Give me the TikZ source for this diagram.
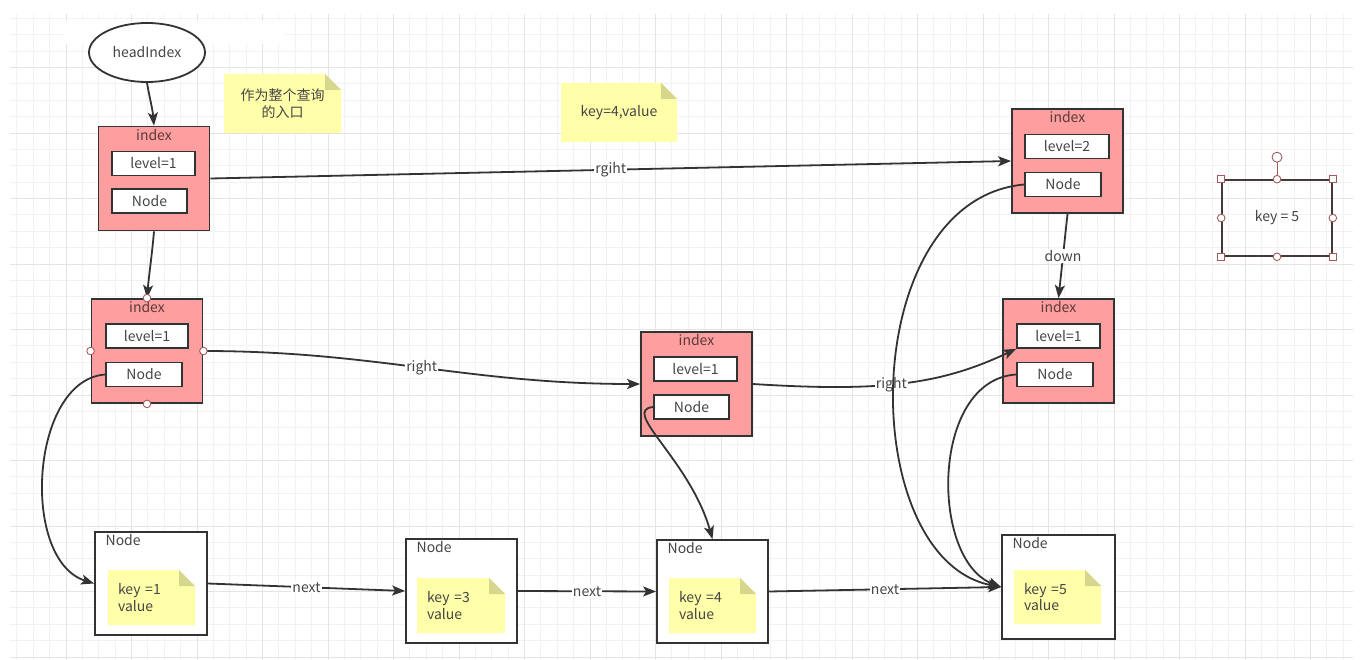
\documentclass[tikz,border=0pt]{standalone}
\usepackage{fontspec}
\setmainfont{Noto Sans CJK SC}
\usetikzlibrary{arrows.meta,shapes.geometric}
\definecolor{idxfill}{HTML}{FF9E9E}
\definecolor{linec}{HTML}{333333}
\definecolor{txtc}{HTML}{454545}
\definecolor{titc}{HTML}{5A3A3A}
\definecolor{noteY}{HTML}{FFFFAA}
\definecolor{foldY}{HTML}{D6D68C}
\definecolor{gridmin}{HTML}{F2F2F2}
\definecolor{gridmaj}{HTML}{E4E4E4}
\definecolor{handc}{HTML}{A05C5C}
\begin{document}
\begin{tikzpicture}[x=1pt,y=-1pt, font=\fontsize{14}{16.5}\selectfont, text=txtc,
 idx/.style={draw=linec, line width=1.8pt, fill=idxfill, minimum width=111pt, minimum height=104pt, inner sep=0pt},
 fld/.style={draw=linec, line width=1.6pt, fill=white, minimum height=24pt, inner sep=0pt},
 nbox/.style={draw=linec, line width=1.8pt, fill=white, minimum width=111pt, minimum height=104pt, inner sep=0pt},
 arr/.style={draw=linec, line width=1.8pt, -{Stealth[length=13pt,width=10pt,inset=3pt]}},
 lbl/.style={fill=white, inner sep=1pt, text=txtc},
 ttl/.style={text=titc, inner sep=0pt},
 hnd/.style={draw=handc, fill=white, line width=0.9pt},
 note/.style={inner sep=0pt, path picture={
   \fill[noteY] (path picture bounding box.south west) -- (path picture bounding box.north west)
     -- ([xshift=-16pt]path picture bounding box.north east) -- ([yshift=-16pt]path picture bounding box.north east)
     -- (path picture bounding box.south east) -- cycle;
   \fill[foldY] ([xshift=-16pt]path picture bounding box.north east) -- ([xshift=-16pt,yshift=-16pt]path picture bounding box.north east)
     -- ([yshift=-16pt]path picture bounding box.north east) -- cycle;}}
]
\useasboundingbox (0,0) rectangle (1372,660);
\fill[white] (0,0) rectangle (1372,660);
% grid
\begin{scope}
\clip (10,15) rectangle (1353,660);
\foreach \i in {0,...,83} \draw[gridmin, line width=0.8pt] ({0.5+16.375*\i},0) -- ({0.5+16.375*\i},660);
\foreach \i in {0,...,41} \draw[gridmin, line width=0.8pt] (0,{2+16.375*\i}) -- (1372,{2+16.375*\i});
\foreach \i in {0,...,21} \draw[gridmaj, line width=0.9pt] ({0.5+65.5*\i},0) -- ({0.5+65.5*\i},660);
\foreach \i in {0,...,10} \draw[gridmaj, line width=0.9pt] (0,{2+65.5*\i}) -- (1372,{2+65.5*\i});
\end{scope}
\fill[white] (65,21) rectangle (285,44);

% head
\node[ellipse, draw=linec, line width=1.8pt, fill=white, minimum width=116pt, minimum height=59pt, inner sep=0pt] (hi) at (147,52.5) {headIndex};
\node[note, minimum width=117pt, minimum height=59pt, align=center] (cn) at (282.5,103.5) {作为整个查询\\的入口};
\node[note, minimum width=116pt, minimum height=59pt] (k4n) at (619,112.5) {key=4,value};

% index nodes
\node[idx] (i1) at (154,178.5) {};
\node[ttl] at ([yshift=-9pt]i1.north) {index};
\node[fld, minimum width=83pt] (i1lv) at (153.5,163.5) {level=1};
\node[fld, minimum width=75pt] (i1nd) at (149.5,201) {Node};

\node[idx] (i2) at (147,351) {};
\node[ttl] at ([yshift=-9pt]i2.north) {index};
\node[fld, minimum width=82pt] (i2lv) at (147,336) {level=1};
\node[fld, minimum width=76pt] (i2nd) at (144,374.5) {Node};

\node[idx] (i3) at (696.5,384) {};
\node[ttl] at ([yshift=-9pt]i3.north) {index};
\node[fld, minimum width=83pt] (i3lv) at (695.5,369) {level=1};
\node[fld, minimum width=75pt] (i3nd) at (691.5,407) {Node};

\node[idx] (i4) at (1067.5,161) {};
\node[ttl] at ([yshift=-9pt]i4.north) {index};
\node[fld, minimum width=84pt] (i4lv) at (1067,146.5) {level=2};
\node[fld, minimum width=76pt] (i4nd) at (1063,184.5) {Node};

\node[idx] (i5) at (1058.5,351) {};
\node[ttl] at ([yshift=-9pt]i5.north) {index};
\node[fld, minimum width=83pt] (i5lv) at (1058.5,336) {level=1};
\node[fld, minimum width=76pt] (i5nd) at (1055,374.5) {Node};

% data nodes
\node[nbox, minimum width=112pt, minimum height=103pt] (n1) at (151,583.5) {};
\node[anchor=west] at ([xshift=8pt,yshift=-9pt]n1.north west) {Node};
\node[note, minimum width=87pt, minimum height=55pt, text width=67pt, align=left] (n1k) at (151.5,597.5) {key =1\\value};

\node[nbox] (n3) at (461.5,591) {};
\node[anchor=west] at ([xshift=8pt,yshift=-9pt]n3.north west) {Node};
\node[note, minimum width=88pt, minimum height=55pt, text width=68pt, align=left] (n3k) at (461,605.5) {key =3\\value};

\node[nbox, minimum height=103pt] (n4) at (712.5,591.5) {};
\node[anchor=west] at ([xshift=8pt,yshift=-9pt]n4.north west) {Node};
\node[note, minimum width=87pt, minimum height=55pt, text width=67pt, align=left] (n4k) at (712.5,605.5) {key =4\\value};

\node[nbox, minimum width=113pt] (n5) at (1058.5,587) {};
\node[anchor=west] at ([xshift=8pt,yshift=-9pt]n5.north west) {Node};
\node[note, minimum width=87pt, minimum height=54pt, text width=67pt, align=left] (n5k) at (1057.5,597) {key =5\\value};

% selected shape key = 5
\node[draw=linec!85!handc, line width=1.6pt, minimum width=110pt, minimum height=76pt] (k5) at (1277,218) {key = 5};

% connectors
\draw[arr] (hi.south) to[out=-80,in=95] (i1.north);
\draw[arr] (i1.south) to[out=-95,in=85] (i2.north);
\draw[arr] (i1.east) -- node[lbl]{rgiht} (i4.west);
\draw[arr] (i2.east) to[out=0,in=180] node[lbl]{right} (i3.west);
\draw[arr] (i3.east) .. controls (880,392) and (940,385) .. node[lbl,pos=0.45]{right} (i5lv.south west);
\draw[arr] (i4.south) -- node[lbl]{down} (i5.north);
\draw[arr] (i2nd.west) .. controls (30,380) and (20,560) .. (n1.west);
\draw[arr] (i3nd.west) .. controls (620,410) and (690,460) .. (n4.north);
\draw[arr] (i4nd.west) .. controls (855,200) and (855,560) .. (n5.west);
\draw[arr] (i5nd.west) .. controls (930,380) and (930,560) .. (n5.west);
\draw[arr] (n1.east) -- node[lbl]{next} (n3.west);
\draw[arr] (n3.east) -- node[lbl]{next} (n4.west);
\draw[arr] (n4.east) -- node[lbl]{next} (n5.west);

% handles
\foreach \a in {north,south,east,west} \draw[hnd] (i2.\a) circle (3.8pt);
\draw[handc, line width=1pt] (k5.north) -- ([yshift=17pt]k5.north);
\draw[hnd] ([yshift=22pt]k5.north) circle (5pt);
\foreach \a in {north,south,east,west} \draw[hnd] (k5.\a) circle (3.8pt);
\foreach \a in {north east,north west,south east,south west}
  \draw[hnd] ([shift={(-3.5pt,-3.5pt)}]k5.\a) rectangle ++(7pt,7pt);
\end{tikzpicture}
\end{document}
